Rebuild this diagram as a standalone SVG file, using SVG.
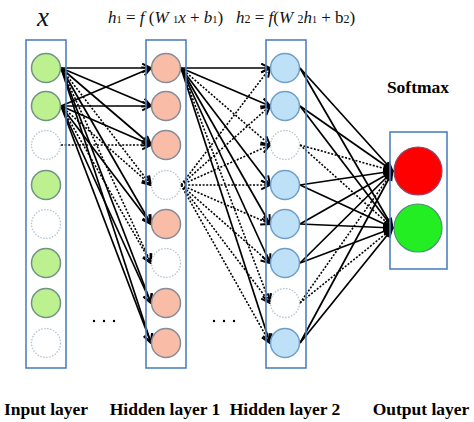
<svg xmlns="http://www.w3.org/2000/svg" width="474" height="422" viewBox="0 0 474 422">
<style>
.box{fill:none;stroke:#4f81bd;stroke-width:1.6}
.g{fill:#bdf08f;stroke:#6f9485;stroke-width:1.5}
.s{fill:#f9bca7;stroke:#858c99;stroke-width:1.5}
.b{fill:#bfe1f7;stroke:#6f9fc8;stroke-width:1.5}
.d{fill:#fff;stroke:#b4c3cf;stroke-width:1.3;stroke-dasharray:1.5 1.5}
.sol{stroke:#000;stroke-width:1.7;fill:none}
.dot{stroke:#000;stroke-width:1.6;fill:none;stroke-dasharray:2 1.6}
.oa{marker-end:url(#ao)}
.fa{marker-end:url(#af)}
.lbl{font-family:"Liberation Serif",serif;font-weight:bold;font-size:17.5px;fill:#000}
.f{font-family:"Liberation Serif",serif;font-size:17px;fill:#111}
</style>
<defs>
<marker id="ao" viewBox="0 0 10 10" refX="9" refY="5" markerWidth="11" markerHeight="11" markerUnits="userSpaceOnUse" orient="auto">
<path d="M1,1 L9,5 L1,9" fill="none" stroke="#000" stroke-width="1.8"/>
</marker>
<marker id="af" viewBox="0 0 10 10" refX="9" refY="5" markerWidth="11" markerHeight="11" markerUnits="userSpaceOnUse" orient="auto">
<path d="M0,1 L10,5 L0,9 z" fill="#000"/>
</marker>
</defs>

<g id="connectors">
<!-- input 1 -> hidden1 -->
<line class="sol oa" x1="61" y1="68" x2="151" y2="68"/>
<line class="sol oa" x1="61" y1="68" x2="151" y2="106"/>
<line class="sol oa" x1="61" y1="68" x2="151" y2="145"/>
<line class="dot oa" x1="61" y1="68" x2="151" y2="185"/>
<line class="sol oa" x1="61" y1="68" x2="151" y2="224"/>
<line class="dot oa" x1="61" y1="68" x2="151" y2="263"/>
<line class="sol oa" x1="61" y1="68" x2="151" y2="303"/>
<line class="sol oa" x1="61" y1="68" x2="151" y2="343"/>
<!-- input 2 -> hidden1 -->
<line class="sol oa" x1="61" y1="106" x2="151" y2="68"/>
<line class="sol oa" x1="61" y1="106" x2="151" y2="106"/>
<line class="sol oa" x1="61" y1="106" x2="151" y2="145"/>
<line class="dot oa" x1="61" y1="106" x2="151" y2="185"/>
<line class="sol oa" x1="61" y1="106" x2="151" y2="224"/>
<line class="dot oa" x1="61" y1="106" x2="151" y2="263"/>
<line class="sol oa" x1="61" y1="106" x2="151" y2="303"/>
<line class="sol oa" x1="61" y1="106" x2="151" y2="343"/>
<!-- input 3 -> hidden1 -->
<line class="dot oa" x1="61" y1="145" x2="151" y2="145"/>
<!-- hidden1 node1 -> hidden2 -->
<line class="sol oa" x1="181" y1="68" x2="270" y2="68"/>
<line class="sol oa" x1="181" y1="68" x2="270" y2="106"/>
<line class="dot oa" x1="181" y1="68" x2="270" y2="145"/>
<line class="sol oa" x1="181" y1="68" x2="270" y2="185"/>
<line class="sol oa" x1="181" y1="68" x2="270" y2="224"/>
<line class="sol oa" x1="181" y1="68" x2="270" y2="263"/>
<line class="dot oa" x1="181" y1="68" x2="270" y2="303"/>
<line class="sol oa" x1="181" y1="68" x2="270" y2="343"/>
<!-- hidden1 node4 (dotted) -> hidden2 -->
<line class="dot oa" x1="181" y1="185" x2="270" y2="68"/>
<line class="dot oa" x1="181" y1="185" x2="270" y2="106"/>
<line class="dot oa" x1="181" y1="185" x2="270" y2="145"/>
<line class="dot oa" x1="181" y1="185" x2="270" y2="185"/>
<line class="dot oa" x1="181" y1="185" x2="270" y2="224"/>
<line class="dot oa" x1="181" y1="185" x2="270" y2="263"/>
<line class="dot oa" x1="181" y1="185" x2="270" y2="303"/>
<line class="dot oa" x1="181" y1="185" x2="270" y2="343"/>
<!-- hidden2 -> output -->
<line class="sol fa" x1="300" y1="68" x2="393" y2="171"/>
<line class="sol fa" x1="300" y1="68" x2="393" y2="228"/>
<line class="sol fa" x1="300" y1="106" x2="393" y2="171"/>
<line class="sol fa" x1="300" y1="106" x2="393" y2="228"/>
<line class="dot fa" x1="300" y1="145" x2="393" y2="171"/>
<line class="dot fa" x1="300" y1="145" x2="393" y2="228"/>
<line class="sol fa" x1="300" y1="185" x2="393" y2="171"/>
<line class="sol fa" x1="300" y1="185" x2="393" y2="228"/>
<line class="sol fa" x1="300" y1="224" x2="393" y2="171"/>
<line class="sol fa" x1="300" y1="224" x2="393" y2="228"/>
<line class="sol fa" x1="300" y1="263" x2="393" y2="171"/>
<line class="sol fa" x1="300" y1="263" x2="393" y2="228"/>
<line class="dot fa" x1="300" y1="303" x2="393" y2="171"/>
<line class="dot fa" x1="300" y1="303" x2="393" y2="228"/>
<line class="sol fa" x1="300" y1="343" x2="393" y2="171"/>
<line class="sol fa" x1="300" y1="343" x2="393" y2="228"/>
</g>

<g id="input-layer">
<rect class="box" x="26" y="40" width="40" height="328"/>
<circle class="g" cx="46" cy="68" r="14.5"/>
<circle class="g" cx="46" cy="106" r="14.5"/>
<circle class="d" cx="46" cy="145" r="14.5"/>
<circle class="g" cx="46" cy="185" r="14.5"/>
<circle class="d" cx="46" cy="224" r="14.5"/>
<circle class="g" cx="46" cy="263" r="14.5"/>
<circle class="g" cx="46" cy="303" r="14.5"/>
<circle class="d" cx="46" cy="343" r="14.5"/>
</g>

<g id="hidden-layer-1">
<rect class="box" x="146" y="40" width="40" height="328"/>
<circle class="s" cx="166" cy="68" r="14.5"/>
<circle class="s" cx="166" cy="106" r="14.5"/>
<circle class="s" cx="166" cy="145" r="14.5"/>
<circle class="d" cx="166" cy="185" r="14.5"/>
<circle class="s" cx="166" cy="224" r="14.5"/>
<circle class="d" cx="166" cy="263" r="14.5"/>
<circle class="s" cx="166" cy="303" r="14.5"/>
<circle class="s" cx="166" cy="343" r="14.5"/>
</g>

<g id="hidden-layer-2">
<rect class="box" x="266" y="40" width="40" height="328"/>
<circle class="b" cx="285" cy="68" r="14.5"/>
<circle class="b" cx="285" cy="106" r="14.5"/>
<circle class="d" cx="285" cy="145" r="14.5"/>
<circle class="b" cx="285" cy="185" r="14.5"/>
<circle class="b" cx="285" cy="224" r="14.5"/>
<circle class="b" cx="285" cy="263" r="14.5"/>
<circle class="d" cx="285" cy="303" r="14.5"/>
<circle class="b" cx="285" cy="343" r="14.5"/>
</g>

<g id="output-layer">
<rect class="box" x="390" y="132" width="57" height="137"/>
<circle cx="418" cy="171" r="24" fill="#ff0000" stroke="#8a4a70" stroke-width="1.2"/>
<circle cx="418" cy="228" r="24" fill="#22ee22" stroke="#4f8f7a" stroke-width="1.2"/>
</g>

<g id="ellipses" fill="#000">
<circle cx="94" cy="321" r="1.2"/><circle cx="104" cy="321" r="1.2"/><circle cx="114" cy="321" r="1.2"/>
<circle cx="214" cy="321" r="1.2"/><circle cx="224" cy="321" r="1.2"/><circle cx="234" cy="321" r="1.2"/>
</g>

<g id="texts">
<text x="37" y="26" font-family="'Liberation Serif',serif" font-style="italic" font-size="27" fill="#111">x</text>
<text class="f" x="108" y="23"><tspan font-style="italic">h</tspan><tspan font-size="10.5">1</tspan> = <tspan font-style="italic">f</tspan> (<tspan font-style="italic">W</tspan> <tspan font-size="10.5">1</tspan><tspan font-style="italic">x</tspan> + <tspan font-style="italic">b</tspan><tspan font-size="10.5">1</tspan>)</text>
<text class="f" x="236" y="23" font-size="16.5"><tspan font-style="italic">h</tspan><tspan font-size="12">2</tspan> = <tspan font-style="italic">f</tspan>(<tspan font-style="italic">W</tspan> <tspan font-size="12">2</tspan><tspan font-style="italic">h</tspan><tspan font-size="10">1</tspan> + b<tspan font-size="12">2</tspan>)</text>
<text class="lbl" x="418" y="93" text-anchor="middle" font-size="15.5">Softmax</text>
<text class="lbl" x="46" y="415" text-anchor="middle">Input layer</text>
<text class="lbl" x="165" y="415" text-anchor="middle">Hidden layer 1</text>
<text class="lbl" x="285" y="415" text-anchor="middle">Hidden layer 2</text>
<text class="lbl" x="421" y="415" text-anchor="middle">Output layer</text>
</g>
</svg>
